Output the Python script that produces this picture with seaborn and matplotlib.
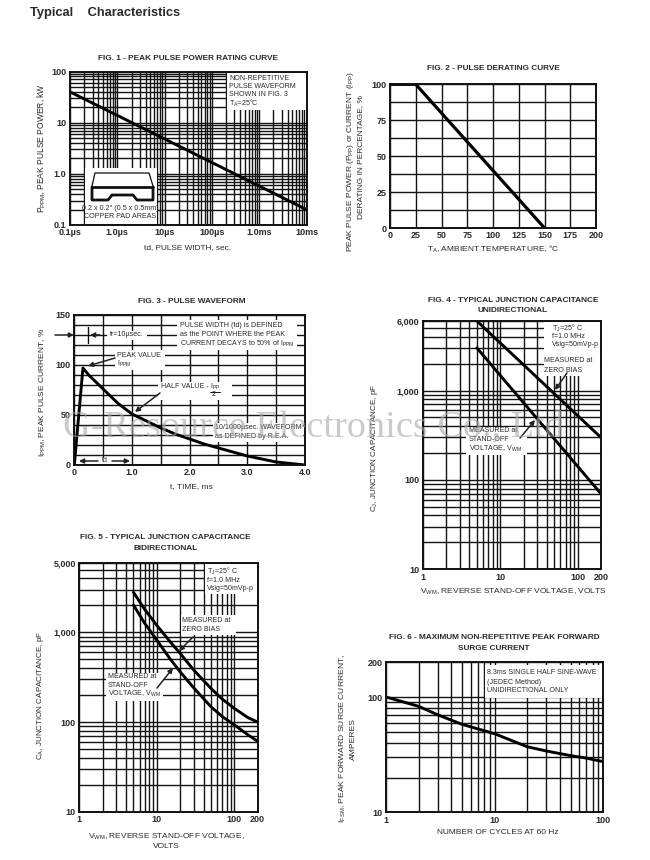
import matplotlib
matplotlib.use("Agg")
import matplotlib.pyplot as plt
import seaborn as sns
from matplotlib.lines import Line2D
from matplotlib.patches import FancyArrowPatch, Rectangle

W, H = 650, 860

# fig 1 - peak pulse power
f1_width = [1e-7, 1e-2]
f1_power = [40, 0.2]

# fig 2 - derating
f2_temp = [0, 25, 150]
f2_derate = [100, 100, 0]

# fig 3 - pulse waveform
f3_time = [0, 0.15, 0.25, 0.5, 0.75, 1.0, 1.25, 1.5, 1.75, 2.0, 2.25, 2.5, 2.75, 3.0, 3.25, 3.5, 3.75, 4.0]
f3_current = [0, 97, 90, 76, 62, 51, 44, 37, 31, 26, 21, 17, 13, 9, 6, 3, 1.5, 0]

# fig 4 - capacitance, unidirectional
f4_volts = [5, 200]
f4_zero_bias = [6000, 298]
f4_standoff = [3000, 70]

# fig 5 - capacitance, bidirectional
f5_volts = [5, 7, 10, 15, 20, 30, 50, 70, 100, 150, 200]
f5_zero_bias = [2800, 1800, 1200, 780, 583, 380, 237, 180, 142, 112, 100]
f5_standoff = [2020, 1260, 820, 500, 364, 240, 148, 115, 93, 72, 61]

# fig 6 - surge current
f6_cycles = [1, 2, 3, 5, 10, 20, 30, 50, 70, 100]
f6_current = [100, 83, 70, 58, 48, 37, 34, 31, 29.5, 27.5]

DECADE = [2, 3, 4, 5, 6, 7, 8, 9]
INK = "#2a2a2a"
NOTE = 5.1

sns.set_theme(style="white")
plt.rcParams["font.family"] = ["Liberation Sans", "DejaVu Sans"]
plt.rcParams["mathtext.default"] = "regular"

fig = plt.figure(figsize=(W / 100, H / 100), dpi=100, facecolor="white")


def fx(x):
    return x / W


def fy(y):
    return 1 - y / H


def make_axes(left, top, right, bottom):
    ax = fig.add_axes([fx(left), fy(bottom), (right - left) / W, (bottom - top) / H])
    for spine in ax.spines.values():
        spine.set_linewidth(1.4)
        spine.set_color("#111111")
    return ax


def decades(lo, hi):
    vals = []
    d = lo
    while d < hi:
        vals += [d * s for s in DECADE if d * s < hi]
        d *= 10
    return vals


def set_grid(ax, xmajor, xlabels, ymajor, ylabels, xminor, yminor):
    ax.set_xticks(xmajor, xlabels)
    ax.set_yticks(ymajor, ylabels)
    ax.set_xticks(xminor, minor=True)
    ax.set_yticks(yminor, minor=True)
    ax.set_xticklabels(xlabels, fontsize=6.5, fontweight="bold", color=INK)
    ax.set_yticklabels(ylabels, fontsize=6.5, fontweight="bold", color=INK)
    ax.tick_params(which="both", length=0, pad=2.5)
    ax.tick_params(which="minor", labelbottom=False, labelleft=False)
    ax.grid(True, which="both", color="#141414", linewidth=1.0)
    ax.set_axisbelow(True)


def curve(ax, x, y, lw=2.1):
    sns.lineplot(x=x, y=y, ax=ax, color="black", linewidth=lw, estimator=None, sort=False, legend=False)
    ax.set_xlabel("")
    ax.set_ylabel("")


def put(x, y, s, size=NOTE, weight="normal", ha="left", rotation=0, zorder=5):
    fig.text(fx(x), fy(y), s, fontsize=size, fontweight=weight, ha=ha, va="center",
             rotation=rotation, color=INK, zorder=zorder)


def title(x, y, s):
    put(x, y, s, size=5.95, weight="bold", ha="center")


def white_box(x0, y0, x1, y1):
    fig.add_artist(Rectangle((fx(x0), fy(y1)), (x1 - x0) / W, (y1 - y0) / H, transform=fig.transFigure,
                             facecolor="white", edgecolor="none", zorder=2))


def arrow(x0, y0, x1, y1, style="-|>"):
    fig.add_artist(FancyArrowPatch((fx(x0), fy(y0)), (fx(x1), fy(y1)), transform=fig.transFigure,
                                   arrowstyle=style, mutation_scale=7, linewidth=1.1, color="#222222",
                                   shrinkA=0, shrinkB=0, zorder=4))


def stroke(xs, ys, lw=1.0):
    fig.add_artist(Line2D([fx(v) for v in xs], [fy(v) for v in ys], transform=fig.transFigure,
                          color="#111111", linewidth=lw, zorder=4))


put(30, 13, "Typical    Characteristics", size=9.3, weight="bold")

# FIG 1
ax1 = make_axes(70, 71.5, 306.5, 225)
ax1.set_xscale("log")
ax1.set_yscale("log")
curve(ax1, f1_width, f1_power)
ax1.set_xlim(1e-7, 1e-2)
ax1.set_ylim(0.1, 100)
set_grid(ax1, [1e-7, 1e-6, 1e-5, 1e-4, 1e-3, 1e-2], ["0.1µs", "1.0µs", "10µs", "100µs", "1.0ms", "10ms"],
         [0.1, 1, 10, 100], ["0.1", "1.0", "10", "100"], decades(1e-7, 1e-2), decades(0.1, 100))
title(188, 59, "FIG. 1 - PEAK PULSE POWER RATING CURVE")
put(41, 148, "P$_{PPM}$, PEAK PULSE POWER, kW", size=6.15, ha="center", rotation=90)
put(187, 248, "td, PULSE WIDTH, sec.", size=5.95, ha="center")
white_box(227, 72.5, 305.5, 110)
for yy, s in zip([78, 86.5, 95, 103.5], ["NON-REPETITIVE", "PULSE WAVEFORM", "SHOWN IN FIG. 3", "T$_A$=25°C"]):
    put(229, yy, s)
white_box(85, 168, 157, 224)
stroke([92, 95, 149, 153], [186, 173, 173, 186], 0.9)
stroke([92, 153], [187, 187], 2.0)
stroke([92, 92, 108, 112, 133, 137, 153, 153], [187, 200, 200, 195, 195, 200, 200, 187], 2.0)
put(120, 208, "0.2 x 0.2\" (0.5 x 0.5mm)", ha="center")
put(120, 217, "COPPER PAD AREAS", ha="center")

# FIG 2
ax2 = make_axes(390, 84.3, 596, 228)
curve(ax2, f2_temp, f2_derate, lw=2.3)
ax2.set_xlim(0, 200)
ax2.set_ylim(0, 100)
set_grid(ax2, list(range(0, 201, 25)), [str(v) for v in range(0, 201, 25)],
         [0, 25, 50, 75, 100], ["0", "25", "50", "75", "100"], [], [12.5, 37.5, 62.5, 87.5])
title(493, 69, "FIG. 2 - PULSE DERATING CURVE")
put(350, 162, "PEAK PULSE POWER (P$_{PP}$) or CURRENT (I$_{PP}$)", size=6.05, ha="center", rotation=90)
put(361, 157, "DERATING IN PERCENTAGE, %", size=6.05, ha="center", rotation=90)
put(493, 249, "T$_A$, AMBIENT TEMPERATURE, °C", size=6.0, ha="center")

# FIG 3
ax3 = make_axes(74.3, 315, 305, 465)
curve(ax3, f3_time, f3_current)
ax3.set_xlim(0, 4)
ax3.set_ylim(0, 150)
set_grid(ax3, [0, 1, 2, 3, 4], ["0", "1.0", "2.0", "3.0", "4.0"], [0, 50, 100, 150], ["0", "50", "100", "150"],
         [0.5, 1.5, 2.5, 3.5], [v for v in range(10, 150, 10) if v % 50])
title(192, 301.5, "FIG. 3 - PULSE WAVEFORM")
put(43, 392, "I$_{PPM}$, PEAK PULSE CURRENT, %", size=6.0, ha="center", rotation=90)
put(191, 487, "t, TIME, ms", size=6.0, ha="center")
white_box(107, 331, 147, 340)
put(110, 335, "tr=10µsec.")
arrow(55, 335, 74, 335)
stroke([87.5, 87.5], [327, 343], 1.0)
arrow(100, 335, 90, 335)
white_box(177, 320, 297, 350)
for yy, s in zip([326, 335, 344], ["PULSE WIDTH (td) is DEFINED", "as the POINT WHERE the PEAK",
                                   "CURRENT DECAYS to 50% of I$_{PPM}$"]):
    put(179.5, yy, s)
white_box(115, 350, 165, 370)
put(117, 355, "PEAK VALUE")
put(117, 364, "I$_{PPM}$")
arrow(115, 358, 88, 366)
white_box(158, 382, 232, 400)
put(161, 387, "HALF VALUE -")
put(210, 387, "I$_{PP}$")
stroke([210, 220], [391.5, 391.5], 0.7)
put(212, 395, "2")
arrow(160, 393, 135, 412)
white_box(213, 423, 303, 442)
put(215, 428, "10/1000µsec. WAVEFORM")
put(215, 436, "as DEFINED by R.E.A.")
white_box(77, 458, 131, 464)
arrow(98, 461, 79, 461)
arrow(112, 461, 130, 461)
put(105, 461, "td", size=5, ha="center")

# FIG 4
ax4 = make_axes(422.7, 321, 601, 569.3)
ax4.set_xscale("log")
ax4.set_yscale("log")
curve(ax4, f4_volts, f4_zero_bias)
curve(ax4, f4_volts, f4_standoff)
ax4.set_xlim(1, 200)
ax4.set_ylim(10, 6000)
set_grid(ax4, [1, 10, 100, 200], ["1", "10", "100", "200"], [10, 100, 1000, 6000], ["10", "100", "1,000", "6,000"],
         decades(1, 200), decades(10, 6000))
title(513, 300.7, "FIG. 4 - TYPICAL JUNCTION CAPACITANCE")
title(513, 310.7, "UNIDIRECTIONAL")
put(375, 448, "C$_J$, JUNCTION CAPACITANCE, pF", size=5.8, ha="center", rotation=90)
put(513, 592, "V$_{WM}$, REVERSE STAND-OFF VOLTAGE, VOLTS", size=6.0, ha="center")
white_box(544, 322, 600, 376)
for yy, s in zip([328, 336.5, 345], ["T$_J$=25° C", "f=1.0 MHz", "Vsig=50mVp-p"]):
    put(552, yy, s)
put(544, 361, "MEASURED at")
put(544, 370, "ZERO BIAS")
arrow(567, 373, 555, 390)
white_box(466, 427, 527, 455)
for yy, s in zip([431, 439.5, 448.5], ["MEASURED at", "STAND-OFF", "VOLTAGE, V$_{WM}$"]):
    put(469, yy, s)
arrow(520, 438, 535, 420)

# FIG 5
ax5 = make_axes(79.3, 562.7, 257.7, 811.7)
ax5.set_xscale("log")
ax5.set_yscale("log")
curve(ax5, f5_volts, f5_zero_bias)
curve(ax5, f5_volts, f5_standoff)
ax5.set_xlim(1, 200)
ax5.set_ylim(10, 6000)
set_grid(ax5, [1, 10, 100, 200], ["1", "10", "100", "200"], [10, 100, 1000, 6000], ["10", "100", "1,000", "5,000"],
         decades(1, 200), decades(10, 6000))
title(165.7, 537.7, "FIG. 5 - TYPICAL JUNCTION CAPACITANCE")
title(165.7, 548, "BIDIRECTIONAL")
put(40, 695, "C$_A$, JUNCTION CAPACITANCE, pF", size=5.75, ha="center", rotation=90)
put(166, 837, "V$_{WM}$, REVERSE STAND-OFF VOLTAGE,", size=6.0, ha="center")
put(166, 847, "VOLTS", size=6.0, ha="center")
white_box(205, 564, 257, 594)
for yy, s in zip([571, 580, 589], ["T$_J$=25° C", "f=1.0 MHz", "Vsig=50mVp-p"]):
    put(207, yy, s)
white_box(181, 615, 236, 635)
put(182.5, 620.5, "MEASURED at")
put(182.5, 629.5, "ZERO BIAS")
arrow(193, 637, 179, 651)
white_box(106, 673, 163, 701)
for yy, s in zip([677, 685.5, 694], ["MEASURED at", "STAND-OFF", "VOLTAGE, V$_{WM}$"]):
    put(108, yy, s)
arrow(157, 688, 173, 668)

# FIG 6
ax6 = make_axes(386, 662.3, 603.3, 812.3)
ax6.set_xscale("log")
ax6.set_yscale("log")
curve(ax6, f6_cycles, f6_current)
ax6.set_xlim(1, 100)
ax6.set_ylim(10, 200)
set_grid(ax6, [1, 10, 100], ["1", "10", "100"], [10, 100, 200], ["10", "100", "200"],
         decades(1, 100), decades(10, 200))
title(494, 637.7, "FIG. 6 - MAXIMUM NON-REPETITIVE PEAK FORWARD")
title(494, 648, "SURGE CURRENT")
put(343, 739, "I$_{FSM}$, PEAK FORWARD SURGE CURRENT,", size=6.1, ha="center", rotation=90)
put(353, 739, "AMPERES", size=6.1, ha="center", rotation=90)
put(498, 832, "NUMBER OF CYCLES AT 60 Hz", size=6.0, ha="center")
white_box(485, 665, 602, 698)
for yy, s in zip([673, 682, 691], ["8.3ms SINGLE HALF SINE-WAVE", "(JEDEC Method)", "UNIDIRECTIONAL ONLY"]):
    put(487, yy, s)

# watermark across the middle of the page
fig.text(fx(63), fy(427), "G-Resource Electronics Co., Ltd", fontsize=27.5, family="Liberation Serif",
         color="#a8a8a8", alpha=0.6, va="center", zorder=6)

fig.savefig("out.png", dpi=100)
